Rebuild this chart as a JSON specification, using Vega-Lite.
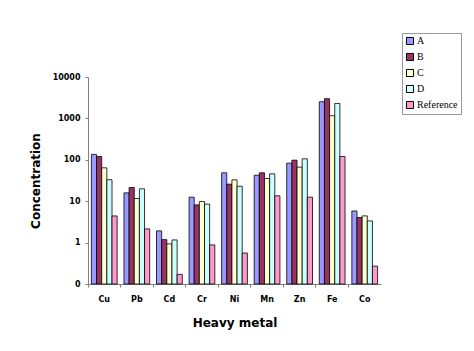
{
  "$schema": "https://vega.github.io/schema/vega-lite/v6.json",
  "width": 293,
  "height": 207,
  "autosize": "none",
  "padding": {"left": 88, "top": 77, "right": 93, "bottom": 67},
  "background": "white",
  "data": {
    "values": [
      {"metal": "Cu", "site": "A", "value": 135},
      {"metal": "Cu", "site": "B", "value": 120},
      {"metal": "Cu", "site": "C", "value": 64},
      {"metal": "Cu", "site": "D", "value": 33},
      {"metal": "Cu", "site": "Reference", "value": 4.4},
      {"metal": "Pb", "site": "A", "value": 15.9},
      {"metal": "Pb", "site": "B", "value": 21.4},
      {"metal": "Pb", "site": "C", "value": 11.6},
      {"metal": "Pb", "site": "D", "value": 19.9},
      {"metal": "Pb", "site": "Reference", "value": 2.14},
      {"metal": "Cd", "site": "A", "value": 1.92},
      {"metal": "Cd", "site": "B", "value": 1.18},
      {"metal": "Cd", "site": "C", "value": 0.93},
      {"metal": "Cd", "site": "D", "value": 1.16},
      {"metal": "Cd", "site": "Reference", "value": 0.171},
      {"metal": "Cr", "site": "A", "value": 12.5},
      {"metal": "Cr", "site": "B", "value": 8.15},
      {"metal": "Cr", "site": "C", "value": 9.8},
      {"metal": "Cr", "site": "D", "value": 8.5},
      {"metal": "Cr", "site": "Reference", "value": 0.88},
      {"metal": "Ni", "site": "A", "value": 48.5},
      {"metal": "Ni", "site": "B", "value": 25.8},
      {"metal": "Ni", "site": "C", "value": 32.8},
      {"metal": "Ni", "site": "D", "value": 23},
      {"metal": "Ni", "site": "Reference", "value": 0.56},
      {"metal": "Mn", "site": "A", "value": 42.5},
      {"metal": "Mn", "site": "B", "value": 48.5},
      {"metal": "Mn", "site": "C", "value": 35.3},
      {"metal": "Mn", "site": "D", "value": 45.8},
      {"metal": "Mn", "site": "Reference", "value": 13.5},
      {"metal": "Zn", "site": "A", "value": 83},
      {"metal": "Zn", "site": "B", "value": 98},
      {"metal": "Zn", "site": "C", "value": 66.5},
      {"metal": "Zn", "site": "D", "value": 105.7},
      {"metal": "Zn", "site": "Reference", "value": 12.5},
      {"metal": "Fe", "site": "A", "value": 2530},
      {"metal": "Fe", "site": "B", "value": 2990},
      {"metal": "Fe", "site": "C", "value": 1160},
      {"metal": "Fe", "site": "D", "value": 2300},
      {"metal": "Fe", "site": "Reference", "value": 120},
      {"metal": "Co", "site": "A", "value": 5.8},
      {"metal": "Co", "site": "B", "value": 4.03},
      {"metal": "Co", "site": "C", "value": 4.42},
      {"metal": "Co", "site": "D", "value": 3.34},
      {"metal": "Co", "site": "Reference", "value": 0.27}
    ]
  },
  "mark": {"type": "bar", "stroke": "black", "strokeWidth": 0.8},
  "encoding": {
    "x": {
      "field": "metal",
      "type": "nominal",
      "sort": ["Cu", "Pb", "Cd", "Cr", "Ni", "Mn", "Zn", "Fe", "Co"],
      "scale": {"paddingInner": 0, "paddingOuter": 0},
      "axis": {
        "title": "Heavy metal",
        "labelAngle": 0,
        "bandPosition": 0,
        "labelFont": "DejaVu Sans",
        "labelFontWeight": "bold",
        "labelFontSize": 8,
        "labelColor": "black",
        "labelPadding": 8,
        "tickSize": 3,
        "tickColor": "#808080",
        "domainColor": "#808080",
        "titleFont": "DejaVu Sans",
        "titleFontWeight": "bold",
        "titleFontSize": 12,
        "titleColor": "black",
        "titlePadding": 14
      }
    },
    "xOffset": {
      "field": "site",
      "type": "nominal",
      "scale": {"paddingInner": 0, "paddingOuter": 0.66}
    },
    "y": {
      "field": "value",
      "type": "quantitative",
      "scale": {"type": "log", "domain": [0.1, 10000], "nice": false},
      "axis": {
        "title": "Concentration",
        "values": [0.1, 1, 10, 100, 1000, 10000],
        "labelExpr": "datum.value < 0.5 ? '0' : format(datum.value, 'd')",
        "grid": false,
        "labelFont": "DejaVu Sans",
        "labelFontWeight": "bold",
        "labelFontSize": 8,
        "labelColor": "black",
        "labelPadding": 5,
        "tickSize": 3,
        "tickColor": "#808080",
        "domainColor": "#808080",
        "titleFont": "DejaVu Sans",
        "titleFontWeight": "bold",
        "titleFontSize": 12,
        "titleColor": "black",
        "titlePadding": 10
      }
    },
    "y2": {"datum": 0.1},
    "fill": {
      "field": "site",
      "type": "nominal",
      "scale": {
        "domain": ["A", "B", "C", "D", "Reference"],
        "range": ["#9999FF", "#993366", "#FFFFCC", "#CCFFFF", "#FF99CC"]
      },
      "legend": {
        "title": null,
        "orient": "none",
        "legendX": 314,
        "legendY": -44,
        "symbolType": "square",
        "symbolSize": 50,
        "symbolStrokeColor": "black",
        "symbolStrokeWidth": 1,
        "labelFont": "Liberation Serif",
        "labelFontSize": 10,
        "labelColor": "black",
        "labelOffset": 2,
        "rowPadding": 4,
        "padding": 3,
        "strokeColor": "#999999",
        "fillColor": "white"
      }
    }
  },
  "config": {
    "view": {"stroke": null}
  }
}
